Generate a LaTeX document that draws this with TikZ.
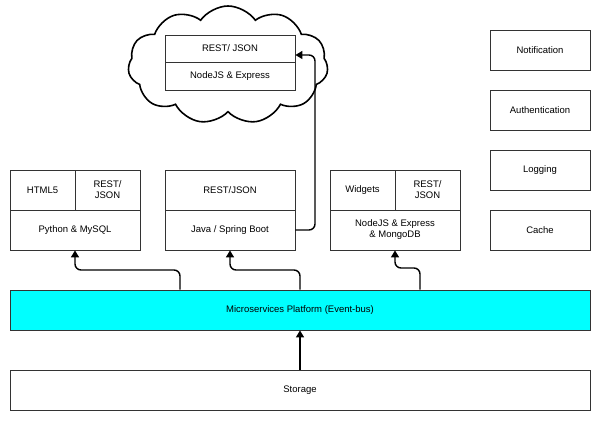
\documentclass[tikz,border=0pt]{standalone}
\usepackage{fontspec}
\setmainfont{Liberation Sans}
\usetikzlibrary{shapes.symbols,arrows.meta}
\definecolor{aqua}{RGB}{0,255,255}
\begin{document}
\begin{tikzpicture}[x=1pt,y=-1pt,
  box/.style={draw=black!80,line width=0.8pt,font=\fontsize{9.5}{11}\selectfont,align=center},
  conn/.style={draw=black,line width=1.4pt,rounded corners=6pt,-{Triangle[length=7pt,width=8pt]}}]
\useasboundingbox (0,0) rectangle (616,430);
\node[cloud,cloud puffs=11,cloud puff arc=110,aspect=1.9,draw=black,line width=1.6pt,minimum width=200pt,minimum height=118pt] (cloud) at (228,65) {};
\node[box,minimum width=130pt,minimum height=27pt] (crest) at (230,48.5) {REST/ JSON};
\node[box,minimum width=130pt,minimum height=28pt] (cnode) at (230,76) {NodeJS \& Express};
\foreach \n/\t/\y in {notif/Notification/50,auth/Authentication/110,log/Logging/170,cache/Cache/230}
  \node[box,minimum width=100pt,minimum height=40pt] (\n) at (540,\y) {\t};
% group 1
\node[box,minimum width=65pt,minimum height=40pt] (html) at (42.5,190) {HTML5};
\node[box,minimum width=65pt,minimum height=40pt] (rest1) at (107.5,190) {REST/\\JSON};
\node[box,minimum width=130pt,minimum height=40pt] (py) at (75,230) {Python \& MySQL};
% group 2
\node[box,minimum width=130pt,minimum height=40pt] (rest2) at (230,190) {REST/JSON};
\node[box,minimum width=130pt,minimum height=40pt] (java) at (230,230) {Java / Spring Boot};
% group 3
\node[box,minimum width=65pt,minimum height=40pt] (wid) at (362.5,190) {Widgets};
\node[box,minimum width=65pt,minimum height=40pt] (rest3) at (427.5,190) {REST/\\JSON};
\node[box,minimum width=130pt,minimum height=40pt] (nm) at (395,230) {NodeJS \& Express\\\& MongoDB};
% platform
\node[box,fill=aqua,minimum width=580pt,minimum height=40pt] (plat) at (300,310) {Microservices Platform (Event-bus)};
\node[box,minimum width=580pt,minimum height=40pt] (stor) at (300,390) {Storage};
% arrows
\draw[conn] (plat.north -| 180,0) -- (180,270) -- (75,270) -- (py.south);
\draw[conn] (plat.north -| 300,0) -- (300,270) -- (230,270) -- (java.south);
\draw[conn] (plat.north -| 420,0) -- (420,268) -- (395,268) -- (nm.south);
\draw[conn] (stor.north -| 300,0) -- (plat.south -| 300,0);
\draw[conn] (java.east) -- (315,230) -- (315,55) -- (crest.east |- 0,55);
\end{tikzpicture}
\end{document}
